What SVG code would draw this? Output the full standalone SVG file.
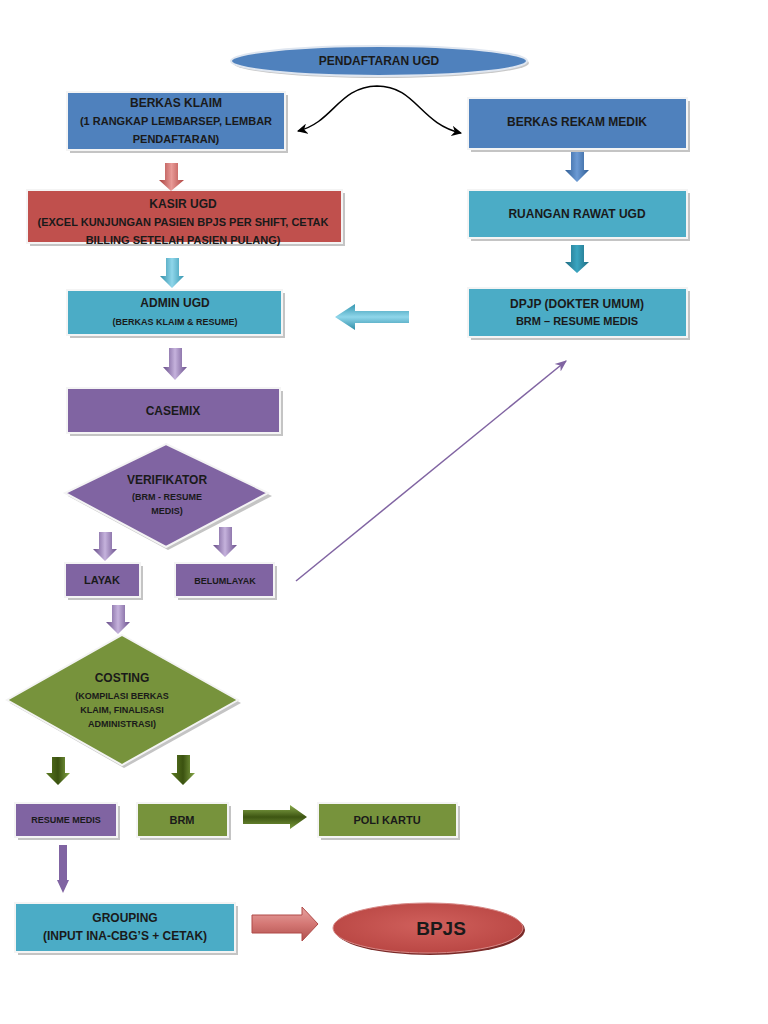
<svg xmlns="http://www.w3.org/2000/svg" width="768" height="1024" viewBox="0 0 768 1024">
<style>
text{font-family:"Liberation Sans",Arial,sans-serif;font-weight:bold;fill:#1a1a1a;text-anchor:middle}
.t{font-size:12px}
.s{font-size:11px}
.xs{font-size:9px}
.sh{fill:#c4c4c4}
.bx{stroke:#f4f4f4;stroke-width:2}
.blue{fill:#4f81bd}
.red{fill:#c0504d}
.cyan{fill:#4bacc6}
.purple{fill:#8064a2}
.green{fill:#77933c}
</style>
<defs>
<linearGradient id="gRedV" x1="0" y1="0" x2="1" y2="0"><stop offset="0" stop-color="#a83f3c"/><stop offset="0.5" stop-color="#e89a97"/><stop offset="1" stop-color="#b04542"/></linearGradient>
<linearGradient id="gCyanV" x1="0" y1="0" x2="1" y2="0"><stop offset="0" stop-color="#2f8ea8"/><stop offset="0.5" stop-color="#8fd6ea"/><stop offset="1" stop-color="#3596b0"/></linearGradient>
<linearGradient id="gCyanH" x1="0" y1="0" x2="0" y2="1"><stop offset="0" stop-color="#3596b0"/><stop offset="0.5" stop-color="#8fd6ea"/><stop offset="1" stop-color="#2f8ea8"/></linearGradient>
<linearGradient id="gCyanD" x1="0" y1="0" x2="1" y2="0"><stop offset="0" stop-color="#1f6c82"/><stop offset="0.5" stop-color="#3aa5c0"/><stop offset="1" stop-color="#1f6c82"/></linearGradient>
<linearGradient id="gBlueV" x1="0" y1="0" x2="1" y2="0"><stop offset="0" stop-color="#2f5d94"/><stop offset="0.5" stop-color="#6c9ad4"/><stop offset="1" stop-color="#2f5d94"/></linearGradient>
<linearGradient id="gPurV" x1="0" y1="0" x2="1" y2="0"><stop offset="0" stop-color="#664b88"/><stop offset="0.5" stop-color="#c5b2dc"/><stop offset="1" stop-color="#6a4f8c"/></linearGradient>
<linearGradient id="gGrnV" x1="0" y1="0" x2="1" y2="0"><stop offset="0" stop-color="#5c7a22"/><stop offset="0.5" stop-color="#3b5210"/><stop offset="1" stop-color="#86a848"/></linearGradient>
<linearGradient id="gGrnH" x1="0" y1="0" x2="0" y2="1"><stop offset="0" stop-color="#8aab4c"/><stop offset="0.5" stop-color="#3d5512"/><stop offset="1" stop-color="#7a9a3c"/></linearGradient>
<linearGradient id="gRedH" x1="0" y1="0" x2="0" y2="1"><stop offset="0" stop-color="#e7a4a2"/><stop offset="0.5" stop-color="#d47774"/><stop offset="1" stop-color="#b0504d"/></linearGradient>
<radialGradient id="gBpjs" cx="0.5" cy="0.45" r="0.6"><stop offset="0" stop-color="#d0605c"/><stop offset="1" stop-color="#b84542"/></radialGradient>
<marker id="ah" viewBox="0 0 10 10" refX="9" refY="5" markerWidth="7" markerHeight="7" orient="auto-start-reverse"><path d="M0,0 L10,5 L0,10 L3,5 z" fill="#000"/></marker>
<marker id="ap" viewBox="0 0 10 10" refX="9" refY="5" markerWidth="8" markerHeight="8" orient="auto"><path d="M0,1 L10,5 L0,9 L3,5 z" fill="#8064a2"/></marker>
</defs>

<g id="pendaftaran">
<ellipse cx="381" cy="63" rx="148" ry="15" fill="#c8c8c8"/>
<ellipse cx="379" cy="61" rx="148" ry="15" fill="#4f81bd" stroke="#dfe6f0" stroke-width="2"/>
<text class="t" x="379" y="65">PENDAFTARAN UGD</text>
</g>

<g id="berkas-klaim">
<rect class="sh" x="70" y="95" width="218" height="58"/>
<rect class="bx blue" x="67" y="92" width="218" height="58"/>
<text class="t" x="176" y="107">BERKAS KLAIM</text>
<text class="s" x="176" y="125">(1 RANGKAP LEMBARSEP, LEMBAR</text>
<text class="s" x="176" y="143">PENDAFTARAN)</text>
</g>

<g id="berkas-rekam-medik">
<rect class="sh" x="471" y="101" width="219" height="51"/>
<rect class="bx blue" x="468" y="98" width="219" height="51"/>
<text class="t" x="577" y="126">BERKAS REKAM MEDIK</text>
</g>

<g id="kasir-ugd">
<rect class="sh" x="30" y="193" width="315" height="53"/>
<rect class="bx red" x="27" y="190" width="315" height="53"/>
<text class="t" x="183" y="208">KASIR UGD</text>
<text class="s" x="183" y="226">(EXCEL KUNJUNGAN PASIEN BPJS PER SHIFT, CETAK</text>
<text class="s" x="183" y="244">BILLING SETELAH PASIEN PULANG)</text>
</g>

<g id="ruangan-rawat-ugd">
<rect class="sh" x="471" y="193" width="219" height="48"/>
<rect class="bx cyan" x="468" y="190" width="219" height="48"/>
<text class="t" x="577" y="218">RUANGAN RAWAT UGD</text>
</g>

<g id="admin-ugd">
<rect class="sh" x="70" y="293" width="215" height="45"/>
<rect class="bx cyan" x="67" y="290" width="215" height="45"/>
<text class="t" x="175" y="307">ADMIN UGD</text>
<text class="xs" x="175" y="325">(BERKAS KLAIM &amp; RESUME)</text>
</g>

<g id="dpjp">
<rect class="sh" x="471" y="291" width="219" height="49"/>
<rect class="bx cyan" x="468" y="288" width="219" height="49"/>
<text class="t" x="577" y="308">DPJP (DOKTER UMUM)</text>
<text class="s" x="577" y="325">BRM – RESUME MEDIS</text>
</g>

<g id="casemix">
<rect class="sh" x="70" y="391" width="213" height="45"/>
<rect class="bx purple" x="67" y="388" width="213" height="45"/>
<text class="t" x="173" y="415">CASEMIX</text>
</g>

<g id="verifikator">
<polygon points="168,447 272,496 168,550 68,496" fill="#c4c4c4"/>
<polygon points="166,444 268,493 166,547 65,493" fill="#8064a2" stroke="#f4f4f4" stroke-width="2"/>
<text class="t" x="167" y="484">VERIFIKATOR</text>
<text class="xs" x="167" y="500">(BRM - RESUME</text>
<text class="xs" x="167" y="514">MEDIS)</text>
</g>

<g id="layak">
<rect class="sh" x="68" y="566" width="75" height="34"/>
<rect class="bx purple" x="65" y="563" width="75" height="34"/>
<text class="s" x="102" y="584">LAYAK</text>
</g>

<g id="belumlayak">
<rect class="sh" x="178" y="566" width="99" height="34"/>
<rect class="bx purple" x="175" y="563" width="99" height="34"/>
<text class="xs" x="225" y="584">BELUMLAYAK</text>
</g>

<g id="costing">
<polygon points="124,638 241,703 124,768 10,703" fill="#c4c4c4"/>
<polygon points="122,635 238,700 122,765 7,700" fill="#77933c" stroke="#f4f4f4" stroke-width="2"/>
<text class="t" x="122" y="682">COSTING</text>
<text class="xs" x="122" y="699">(KOMPILASI BERKAS</text>
<text class="xs" x="122" y="713">KLAIM, FINALISASI</text>
<text class="xs" x="122" y="727">ADMINISTRASI)</text>
</g>

<g id="resume-medis">
<rect class="sh" x="18" y="806" width="102" height="34"/>
<rect class="bx purple" x="15" y="803" width="102" height="34"/>
<text class="xs" x="66" y="823">RESUME MEDIS</text>
</g>

<g id="brm">
<rect class="sh" x="140" y="806" width="91" height="34"/>
<rect class="bx green" x="137" y="803" width="91" height="34"/>
<text class="s" x="182" y="824">BRM</text>
</g>

<g id="poli-kartu">
<rect class="sh" x="321" y="806" width="139" height="34"/>
<rect class="bx green" x="318" y="803" width="139" height="34"/>
<text class="s" x="387" y="824">POLI KARTU</text>
</g>

<g id="grouping">
<rect class="sh" x="18" y="906" width="220" height="49" fill="#555"/>
<rect class="bx cyan" x="15" y="903" width="220" height="49"/>
<text class="t" x="125" y="922">GROUPING</text>
<text class="t" x="125" y="940">(INPUT INA-CBG’S + CETAK)</text>
</g>

<g id="bpjs">
<ellipse cx="430" cy="930" rx="95" ry="25" fill="#7a2a28"/>
<ellipse cx="428" cy="928" rx="95" ry="25" fill="url(#gBpjs)" stroke="#d88a88" stroke-width="1"/>
<text x="441" y="935" style="font-size:19px">BPJS</text>
</g>

<g id="connectors">
<path d="M298,131 C334,122 338,87 377,86 C416,86 420,124 461,133" fill="none" stroke="#000" stroke-width="1.5" marker-start="url(#ah)" marker-end="url(#ah)"/>
<polygon points="165,163 178,163 178,180 184,180 171,191 159,180 165,180" fill="url(#gRedV)"/>
<polygon points="166,258 179,258 179,276 184,276 172,288 160,276 166,276" fill="url(#gCyanV)"/>
<polygon points="169,348 182,348 182,367 187,367 175,380 163,367 169,367" fill="url(#gPurV)"/>
<polygon points="571,152 584,152 584,170 589,170 577,182 565,170 571,170" fill="url(#gBlueV)"/>
<polygon points="571,245 584,245 584,262 589,262 577,273 565,262 571,262" fill="url(#gCyanD)"/>
<polygon points="409,311 409,323 355,323 355,330 335,317 355,304 355,311" fill="url(#gCyanH)"/>
<polygon points="99,532 112,532 112,549 117,549 105,561 93,549 99,549" fill="url(#gPurV)"/>
<polygon points="219,527 232,527 232,545 237,545 225,557 213,545 219,545" fill="url(#gPurV)"/>
<polygon points="112,605 125,605 125,622 130,622 118,634 106,622 112,622" fill="url(#gPurV)"/>
<polygon points="52,757 65,757 65,773 70,773 58,785 46,773 52,773" fill="url(#gGrnV)"/>
<polygon points="177,755 190,755 190,773 195,773 183,785 171,773 177,773" fill="url(#gGrnV)"/>
<polygon points="243,810 290,810 290,805 307,817 290,829 290,824 243,824" fill="url(#gGrnH)"/>
<polygon points="59,845 67,845 67,880 69,880 63,893 57,880 59,880" fill="#8064a2"/>
<polygon points="252,915 302,915 302,907 318,924 302,941 302,933 252,933" fill="url(#gRedH)" stroke="#b04b48" stroke-width="1"/>
<line x1="296" y1="581" x2="566" y2="361" stroke="#8064a2" stroke-width="1.5" marker-end="url(#ap)"/>
</g>
</svg>
